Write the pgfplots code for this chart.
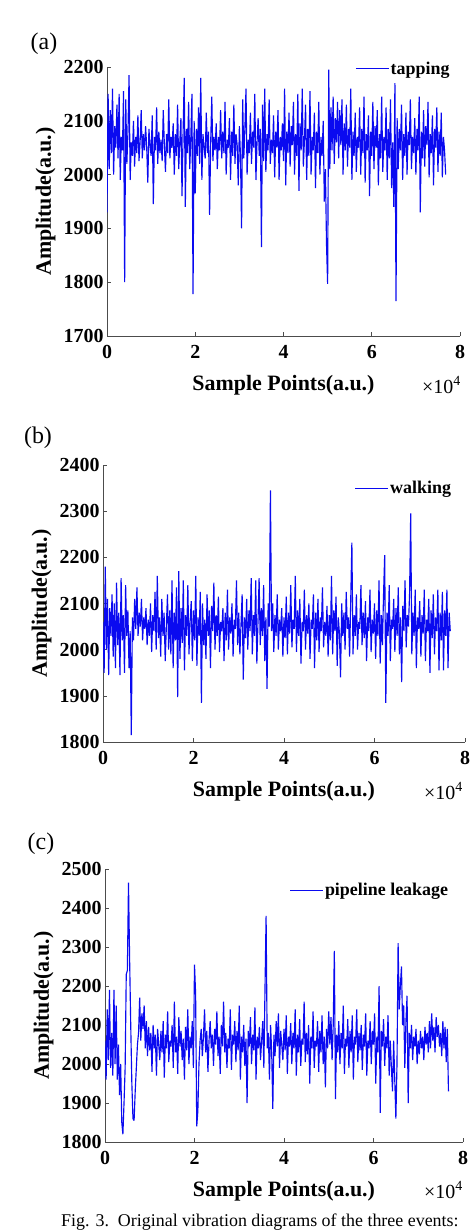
\documentclass[border=0pt]{standalone}
\usepackage{fontspec}
\setmainfont{Liberation Serif}
\usepackage{pgfplots}
\pgfplotsset{compat=1.18}
\usepackage{pgfplotstable}
\usetikzlibrary{calc}
\definecolor{sig}{RGB}{10,10,240}

% tapping (x step 0.025 x 10^4 samples)
\pgfplotstableread[row sep=\\]{
y\\
1930\\ 2150\\ 2010\\ 2120\\ 2040\\ 2160\\ 2000\\ 2090\\ 2050\\ 2130\\
2030\\ 2150\\ 1990\\ 2070\\ 2045\\ 2155\\ 1800\\ 2140\\ 2020\\ 2080\\
2185\\ 1990\\ 2060\\ 2035\\ 2100\\ 2015\\ 2070\\ 2040\\ 2110\\ 2025\\
2060\\ 2120\\ 2030\\ 2075\\ 2045\\ 2090\\ 2050\\ 1985\\ 2085\\ 2055\\
2035\\ 2110\\ 1945\\ 2070\\ 2045\\ 2125\\ 2020\\ 2080\\ 2040\\ 2065\\
2025\\ 2120\\ 2055\\ 2005\\ 2075\\ 2040\\ 2140\\ 2030\\ 2070\\ 2050\\
2095\\ 2000\\ 2075\\ 2035\\ 2130\\ 2010\\ 2060\\ 2105\\ 1960\\ 2080\\
2180\\ 1940\\ 2085\\ 2040\\ 2135\\ 2010\\ 2070\\ 2150\\ 1778\\ 2100\\
1965\\ 2085\\ 2035\\ 2125\\ 2020\\ 2180\\ 1990\\ 2075\\ 2050\\ 2030\\
2115\\ 2040\\ 2080\\ 1925\\ 2060\\ 2145\\ 2025\\ 2070\\ 2045\\ 2095\\
2010\\ 2070\\ 2045\\ 2120\\ 2030\\ 2080\\ 2040\\ 2135\\ 2000\\ 2065\\
2050\\ 2105\\ 1990\\ 2080\\ 2035\\ 2130\\ 2020\\ 2075\\ 2055\\ 1980\\
2090\\ 2035\\ 1900\\ 2140\\ 2030\\ 2085\\ 2160\\ 2000\\ 2065\\ 2040\\
2115\\ 2020\\ 2080\\ 2050\\ 2150\\ 1990\\ 2060\\ 2105\\ 2035\\ 2085\\
1865\\ 2130\\ 2025\\ 2160\\ 2005\\ 2075\\ 2045\\ 2140\\ 2020\\ 2065\\
2040\\ 2110\\ 1995\\ 2080\\ 2050\\ 2120\\ 1990\\ 2070\\ 2045\\ 2095\\
2025\\ 2160\\ 1980\\ 2080\\ 2040\\ 2115\\ 2015\\ 2090\\ 2055\\ 2135\\
2000\\ 2075\\ 2035\\ 2150\\ 1970\\ 2095\\ 2045\\ 2160\\ 2015\\ 2065\\
2130\\ 1990\\ 2085\\ 2035\\ 2155\\ 2000\\ 2070\\ 2045\\ 2115\\ 1975\\
2080\\ 2040\\ 2135\\ 2000\\ 2070\\ 2035\\ 2100\\ 1950\\ 2010\\ 1870\\
1797\\ 2195\\ 2010\\ 2125\\ 2045\\ 2145\\ 2020\\ 2105\\ 2060\\ 2135\\
2030\\ 2120\\ 2055\\ 2140\\ 2000\\ 2095\\ 2045\\ 2130\\ 2015\\ 2085\\
2050\\ 2160\\ 1990\\ 2080\\ 2035\\ 2115\\ 2005\\ 2070\\ 2050\\ 2125\\
2000\\ 2085\\ 2040\\ 2145\\ 1985\\ 2075\\ 2045\\ 2110\\ 1960\\ 2080\\
2035\\ 2135\\ 2010\\ 2090\\ 2050\\ 2120\\ 1980\\ 2075\\ 2030\\ 2145\\
2005\\ 2070\\ 2045\\ 2125\\ 1990\\ 2085\\ 2030\\ 2140\\ 1975\\ 2060\\
1940\\ 2170\\ 1765\\ 2105\\ 2010\\ 2085\\ 2045\\ 2130\\ 1990\\ 2075\\
2035\\ 2115\\ 2000\\ 2080\\ 2055\\ 2140\\ 2010\\ 2070\\ 2040\\ 2105\\
2000\\ 2085\\ 2045\\ 2145\\ 1930\\ 2080\\ 2030\\ 2120\\ 2015\\ 2090\\
2055\\ 2135\\ 1995\\ 2075\\ 2040\\ 2110\\ 1980\\ 2085\\ 2050\\ 2125\\
2005\\ 2080\\ 2035\\ 2115\\ 1995\\ 2070\\ 2045\\ 2000\\
}\dataA

% walking
\pgfplotstableread[row sep=\\]{
y\\
2060\\ 1950\\ 2180\\ 2000\\ 2110\\ 1945\\ 2090\\ 2030\\ 2120\\ 1985\\
2100\\ 1960\\ 2145\\ 2010\\ 2080\\ 1945\\ 2155\\ 2020\\ 2075\\ 1950\\
2140\\ 2030\\ 2085\\ 1960\\ 2040\\ 1815\\ 2070\\ 2020\\ 2110\\ 2045\\
2135\\ 2030\\ 2080\\ 2050\\ 2110\\ 2020\\ 2070\\ 2045\\ 2090\\ 2010\\
2065\\ 2030\\ 2100\\ 1995\\ 2075\\ 2040\\ 2125\\ 2000\\ 2160\\ 2025\\
2070\\ 1985\\ 2110\\ 2030\\ 2080\\ 1975\\ 2050\\ 2120\\ 2000\\ 2085\\
1990\\ 2150\\ 1960\\ 2080\\ 2020\\ 2135\\ 1897\\ 2170\\ 1980\\ 2090\\
2015\\ 2150\\ 1955\\ 2075\\ 2030\\ 2140\\ 1990\\ 2060\\ 2105\\ 1975\\
2085\\ 2020\\ 2160\\ 1965\\ 2070\\ 2030\\ 2125\\ 1885\\ 2100\\ 2010\\
2065\\ 1980\\ 2120\\ 2030\\ 2085\\ 1960\\ 2095\\ 2040\\ 2145\\ 2000\\
2075\\ 2030\\ 2115\\ 1995\\ 2060\\ 2040\\ 2090\\ 1975\\ 2080\\ 2020\\
2130\\ 2000\\ 2070\\ 2035\\ 2100\\ 1985\\ 2065\\ 2045\\ 2150\\ 2010\\
2080\\ 1990\\ 2055\\ 2120\\ 1935\\ 2070\\ 2025\\ 2110\\ 2000\\ 2085\\
2040\\ 2155\\ 1990\\ 2075\\ 2030\\ 2150\\ 1970\\ 2060\\ 2155\\ 2010\\
2090\\ 2030\\ 2140\\ 1975\\ 2070\\ 1915\\ 2100\\ 2050\\ 2345\\ 2040\\
2100\\ 1995\\ 2075\\ 2030\\ 2120\\ 2000\\ 2065\\ 2040\\ 2090\\ 1985\\
2070\\ 2025\\ 2115\\ 1990\\ 2080\\ 2035\\ 2140\\ 2005\\ 2065\\ 2045\\
2160\\ 1995\\ 2085\\ 2030\\ 2110\\ 1970\\ 2060\\ 2040\\ 2130\\ 2000\\
2075\\ 2035\\ 2100\\ 1980\\ 2065\\ 2045\\ 2120\\ 1960\\ 2080\\ 2020\\
2110\\ 1995\\ 2070\\ 2040\\ 2135\\ 2005\\ 2060\\ 2030\\ 2095\\ 1985\\
2075\\ 2020\\ 2160\\ 1990\\ 2085\\ 2040\\ 2115\\ 1965\\ 2070\\ 2035\\
1940\\ 2100\\ 2030\\ 2080\\ 2000\\ 2125\\ 2045\\ 2070\\ 1985\\ 2110\\
2232\\ 1990\\ 2075\\ 2030\\ 2120\\ 2000\\ 2060\\ 2045\\ 2140\\ 2010\\
2080\\ 2025\\ 2105\\ 1975\\ 2070\\ 2040\\ 2130\\ 1995\\ 2065\\ 2035\\
2100\\ 1980\\ 2085\\ 2030\\ 2150\\ 1970\\ 2075\\ 2010\\ 2120\\ 2205\\
1885\\ 2080\\ 2030\\ 2140\\ 1975\\ 2065\\ 2045\\ 2110\\ 1995\\ 2090\\
2030\\ 2135\\ 1990\\ 2070\\ 1930\\ 2095\\ 2040\\ 2150\\ 2005\\ 2075\\
2050\\ 2120\\ 2295\\ 1990\\ 2080\\ 2030\\ 2130\\ 1960\\ 2070\\ 2045\\
2105\\ 1985\\ 2075\\ 2035\\ 2130\\ 1975\\ 2065\\ 2040\\ 2110\\ 1950\\
2085\\ 2025\\ 2120\\ 1990\\ 2070\\ 2040\\ 2130\\ 1955\\ 2080\\ 2020\\
2125\\ 1955\\ 2085\\ 2030\\ 2130\\ 1960\\ 2080\\ 2040\\
}\dataB

% pipeline leakage
\pgfplotstableread[row sep=\\]{
y\\
2060\\ 1960\\ 2140\\ 2010\\ 2190\\ 1990\\ 2080\\ 1970\\ 2190\\ 2000\\
2150\\ 1960\\ 2050\\ 1920\\ 2000\\ 1850\\ 1820\\ 1900\\ 1990\\ 2230\\
2240\\ 2465\\ 2270\\ 2100\\ 1950\\ 1860\\ 1855\\ 1930\\ 1990\\ 2050\\
2080\\ 2170\\ 2060\\ 2130\\ 2090\\ 2150\\ 2040\\ 2110\\ 2020\\ 2095\\
2035\\ 2080\\ 1980\\ 2100\\ 2040\\ 2075\\ 1970\\ 2090\\ 2050\\ 2010\\
2085\\ 2030\\ 2110\\ 1965\\ 2075\\ 2040\\ 2135\\ 2005\\ 2060\\ 2045\\
2100\\ 1990\\ 2160\\ 2030\\ 2070\\ 1975\\ 2120\\ 2045\\ 2085\\ 2010\\
2065\\ 1960\\ 2095\\ 2035\\ 2140\\ 2000\\ 2070\\ 2040\\ 2110\\ 1990\\
2255\\ 2180\\ 1840\\ 1880\\ 2000\\ 2060\\ 2090\\ 2020\\ 2070\\ 2140\\
2030\\ 2085\\ 1980\\ 2060\\ 2110\\ 2040\\ 2075\\ 1995\\ 2090\\ 2050\\
2135\\ 2020\\ 2070\\ 1975\\ 2100\\ 2045\\ 2160\\ 2030\\ 2080\\ 1990\\
2065\\ 2040\\ 2140\\ 1985\\ 2075\\ 2050\\ 2110\\ 2005\\ 2085\\ 2035\\
2150\\ 1960\\ 2070\\ 2030\\ 2100\\ 1995\\ 2065\\ 1900\\ 2085\\ 2045\\
2120\\ 2000\\ 2075\\ 2035\\ 2145\\ 1960\\ 2070\\ 2040\\ 2095\\ 2010\\
2060\\ 2110\\ 1990\\ 2190\\ 2380\\ 2040\\ 2080\\ 1960\\ 2100\\ 2030\\
1885\\ 2075\\ 2020\\ 2110\\ 2045\\ 2130\\ 1990\\ 2085\\ 2050\\ 2010\\
2090\\ 2035\\ 2125\\ 1975\\ 2070\\ 2045\\ 2105\\ 2000\\ 2080\\ 2040\\
2140\\ 1970\\ 2075\\ 2030\\ 2115\\ 1995\\ 2065\\ 2050\\ 2160\\ 2005\\
2080\\ 2025\\ 2100\\ 1950\\ 2070\\ 2040\\ 2135\\ 1990\\ 2060\\ 2045\\
2110\\ 1980\\ 2085\\ 2030\\ 2125\\ 2000\\ 2070\\ 1940\\ 2090\\ 2040\\
2135\\ 2050\\ 2120\\ 2010\\ 2100\\ 2290\\ 1910\\ 2075\\ 2030\\ 2110\\
2000\\ 2080\\ 2040\\ 2150\\ 1975\\ 2065\\ 2045\\ 2115\\ 1990\\ 2085\\
2030\\ 2125\\ 1960\\ 2070\\ 2050\\ 2140\\ 2005\\ 2080\\ 2035\\ 2100\\
1985\\ 2075\\ 2045\\ 2130\\ 1970\\ 2060\\ 2040\\ 2110\\ 2000\\ 2085\\
2050\\ 2130\\ 1950\\ 2070\\ 2030\\ 2200\\ 1875\\ 2085\\ 2045\\ 2115\\
1995\\ 2070\\ 2040\\ 2125\\ 1970\\ 2060\\ 1990\\ 1930\\ 2060\\ 1960\\
1860\\ 2000\\ 2310\\ 2140\\ 2200\\ 2250\\ 2100\\ 2150\\ 1990\\ 2110\\
2175\\ 1900\\ 2080\\ 2040\\ 2100\\ 2010\\ 2070\\ 2045\\ 2090\\ 2000\\
2060\\ 2025\\ 2085\\ 2040\\ 2070\\ 2010\\ 2095\\ 2050\\ 2080\\ 2030\\
2110\\ 2040\\ 2130\\ 2060\\ 2095\\ 2030\\ 2120\\ 2070\\ 2100\\ 2045\\
2080\\ 2020\\ 2110\\ 2040\\ 2095\\ 2005\\ 2090\\ 1930\\
}\dataC

\pgfplotsset{
  sigaxis/.style={
    scale only axis,
    anchor=south west,
    axis x line*=bottom, axis y line*=left,
    axis line style={-, black!70, line width=0.6bp},
    tick style={black!70, line width=0.6bp},
    tick align=inside,
    major tick length=4bp,
    xmin=0, xmax=8, xtick={0,2,4,6,8},
    ytick distance=100,
    tick label style={font=\fontsize{20}{20}\selectfont\bfseries},
    /pgf/number format/assume math mode=true,
    /pgf/number format/set thousands separator={},
    scaled ticks=false,
    xticklabel style={yshift=-6bp},
    legend style={draw=none, fill=none, anchor=east, inner sep=0pt,
      font=\fontsize{18}{18}\selectfont\bfseries, nodes={inner sep=1.5pt}},
    legend image code/.code={\draw[sig, line width=0.8pt] (0bp,0bp) -- (33bp,0bp);},
    xlabel={Sample Points(a.u.)},
    ylabel={Amplitude(a.u.)},
    xlabel style={font=\fontsize{22}{22}\selectfont\bfseries,
      at={($(axis description cs:0.5,0)+(0,-54bp)$)}, anchor=base},
    ylabel style={font=\fontsize{22}{22}\selectfont\bfseries,
      at={($(axis description cs:0,0.5)+(-56bp,0)$)}, anchor=base},
  },
  sigline/.style={sig, line width=1.15pt, line join=bevel},
}

\begin{document}
\begin{tikzpicture}
% (a) tapping
\begin{axis}[sigaxis, at={(107bp,-336bp)}, width=353bp, height=269bp,
  ymin=1700, ymax=2200, legend style={at={(0.975,0.993)}}]
\addplot[sigline] table[x expr=\coordindex*0.025, y=y] {\dataA};
\addlegendentry{tapping}
\end{axis}
% (b) walking
\begin{axis}[sigaxis, at={(103bp,-742bp)}, width=362bp, height=277bp,
  ymin=1800, ymax=2400, legend style={at={(0.966,0.917)}}]
\addplot[sigline] table[x expr=\coordindex*0.025, y=y] {\dataB};
\addlegendentry{walking}
\end{axis}
% (c) pipeline leakage
\begin{axis}[sigaxis, at={(105bp,-1142bp)}, width=358bp, height=273bp,
  ymin=1800, ymax=2500, legend style={at={(0.963,0.923)}}]
\addplot[sigline] table[x expr=\coordindex*0.025, y=y] {\dataC};
\addlegendentry{pipeline leakage}
\end{axis}

\begin{scope}[every node/.style={inner sep=0pt}]
\node[anchor=base, font=\fontsize{24}{24}\selectfont] at (44bp,-49bp) {(a)};
\node[anchor=base, font=\fontsize{24}{24}\selectfont] at (38bp,-443bp) {(b)};
\node[anchor=base, font=\fontsize{24}{24}\selectfont] at (41bp,-849bp) {(c)};
\node[anchor=base east, font=\fontsize{20}{20}\selectfont] at (461bp,-393bp) {×10\textsuperscript{4}};
\node[anchor=base east, font=\fontsize{20}{20}\selectfont] at (463bp,-799bp) {×10\textsuperscript{4}};
\node[anchor=base east, font=\fontsize{20}{20}\selectfont] at (463bp,-1198bp) {×10\textsuperscript{4}};
\node[anchor=base west, font=\fontsize{18}{18}\selectfont] at (61bp,-1226.5bp) {Fig. 3.\ \ Original vibration diagrams of the three events:};
\end{scope}
\pgfresetboundingbox
\useasboundingbox (0bp,-1231bp) rectangle (474bp,0bp);
\end{tikzpicture}
\end{document}
